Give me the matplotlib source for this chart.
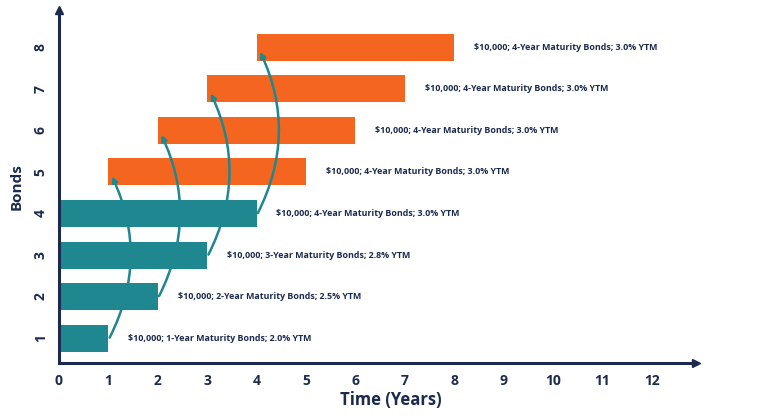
import numpy as np
import matplotlib.pyplot as plt
from matplotlib.patches import FancyArrowPatch

plt.rcParams['font.family'] = ['Open Sans', 'DejaVu Sans']

# data
bonds = [1, 2, 3, 4, 5, 6, 7, 8]
starts = [0, 0, 0, 0, 1, 2, 3, 4]
lengths = [1, 2, 3, 4, 4, 4, 4, 4]
labels = [
    '$10,000; 1-Year Maturity Bonds; 2.0% YTM',
    '$10,000; 2-Year Maturity Bonds; 2.5% YTM',
    '$10,000; 3-Year Maturity Bonds; 2.8% YTM',
    '$10,000; 4-Year Maturity Bonds; 3.0% YTM',
    '$10,000; 4-Year Maturity Bonds; 3.0% YTM',
    '$10,000; 4-Year Maturity Bonds; 3.0% YTM',
    '$10,000; 4-Year Maturity Bonds; 3.0% YTM',
    '$10,000; 4-Year Maturity Bonds; 3.0% YTM',
]
xticks = list(range(13))

teal = '#1f8790'
orange = '#f4661f'
navy = '#1c2a4d'

fig = plt.figure(figsize=(7.68, 4.18), dpi=100)
ax = fig.add_axes([0.0768, 0.1316, 0.8297, 0.8445])

colors = [teal] * 4 + [orange] * 4
ax.barh(bonds, lengths, left=starts, height=0.65, color=colors, zorder=2)

for b, s, l, t in zip(bonds, starts, lengths, labels):
    ax.text(s + l + 0.4, b, t.replace('$', r'\$'), va='center', ha='left',
            fontsize=6.4, fontweight='bold', color=navy)

# rollover arrows: each maturing bond is reinvested into a new 4-year bond
for k in range(4):
    arr = FancyArrowPatch((starts[k] + lengths[k], bonds[k] - 0.05),
                          (starts[k + 4] + 0.05, bonds[k + 4] - 0.05),
                          connectionstyle='arc3,rad=0.25',
                          arrowstyle='-|>', mutation_scale=8,
                          color=teal, lw=1.8, zorder=3)
    ax.add_patch(arr)

ax.set_xlim(0, 12.9)
ax.set_ylim(0.4, 8.9)
ax.set_xticks(xticks)
ax.set_yticks(bonds)
ax.tick_params(length=0, colors=navy, labelsize=10, pad=8)
for lab in ax.get_xticklabels():
    lab.set_fontweight('bold')
for lab in ax.get_yticklabels():
    lab.set_fontweight('bold')
    lab.set_rotation(90)
    lab.set_va('center')

for side in ['top', 'right']:
    ax.spines[side].set_visible(False)
for side in ['left', 'bottom']:
    ax.spines[side].set_color(navy)
    ax.spines[side].set_linewidth(2.2)
ax.plot(1, 0, '>', color=navy, ms=6, transform=ax.transAxes, clip_on=False)
ax.plot(0, 1, '^', color=navy, ms=6, transform=ax.transAxes, clip_on=False)

ax.set_xlabel('Time (Years)', fontsize=12, fontweight='bold', color=navy)
ax.xaxis.set_label_coords(0.52, -0.08)
ax.set_ylabel('Bonds', fontsize=11, fontweight='bold', color=navy)
ax.yaxis.set_label_coords(-0.056, 0.5)

fig.savefig('out.png', dpi=100)
